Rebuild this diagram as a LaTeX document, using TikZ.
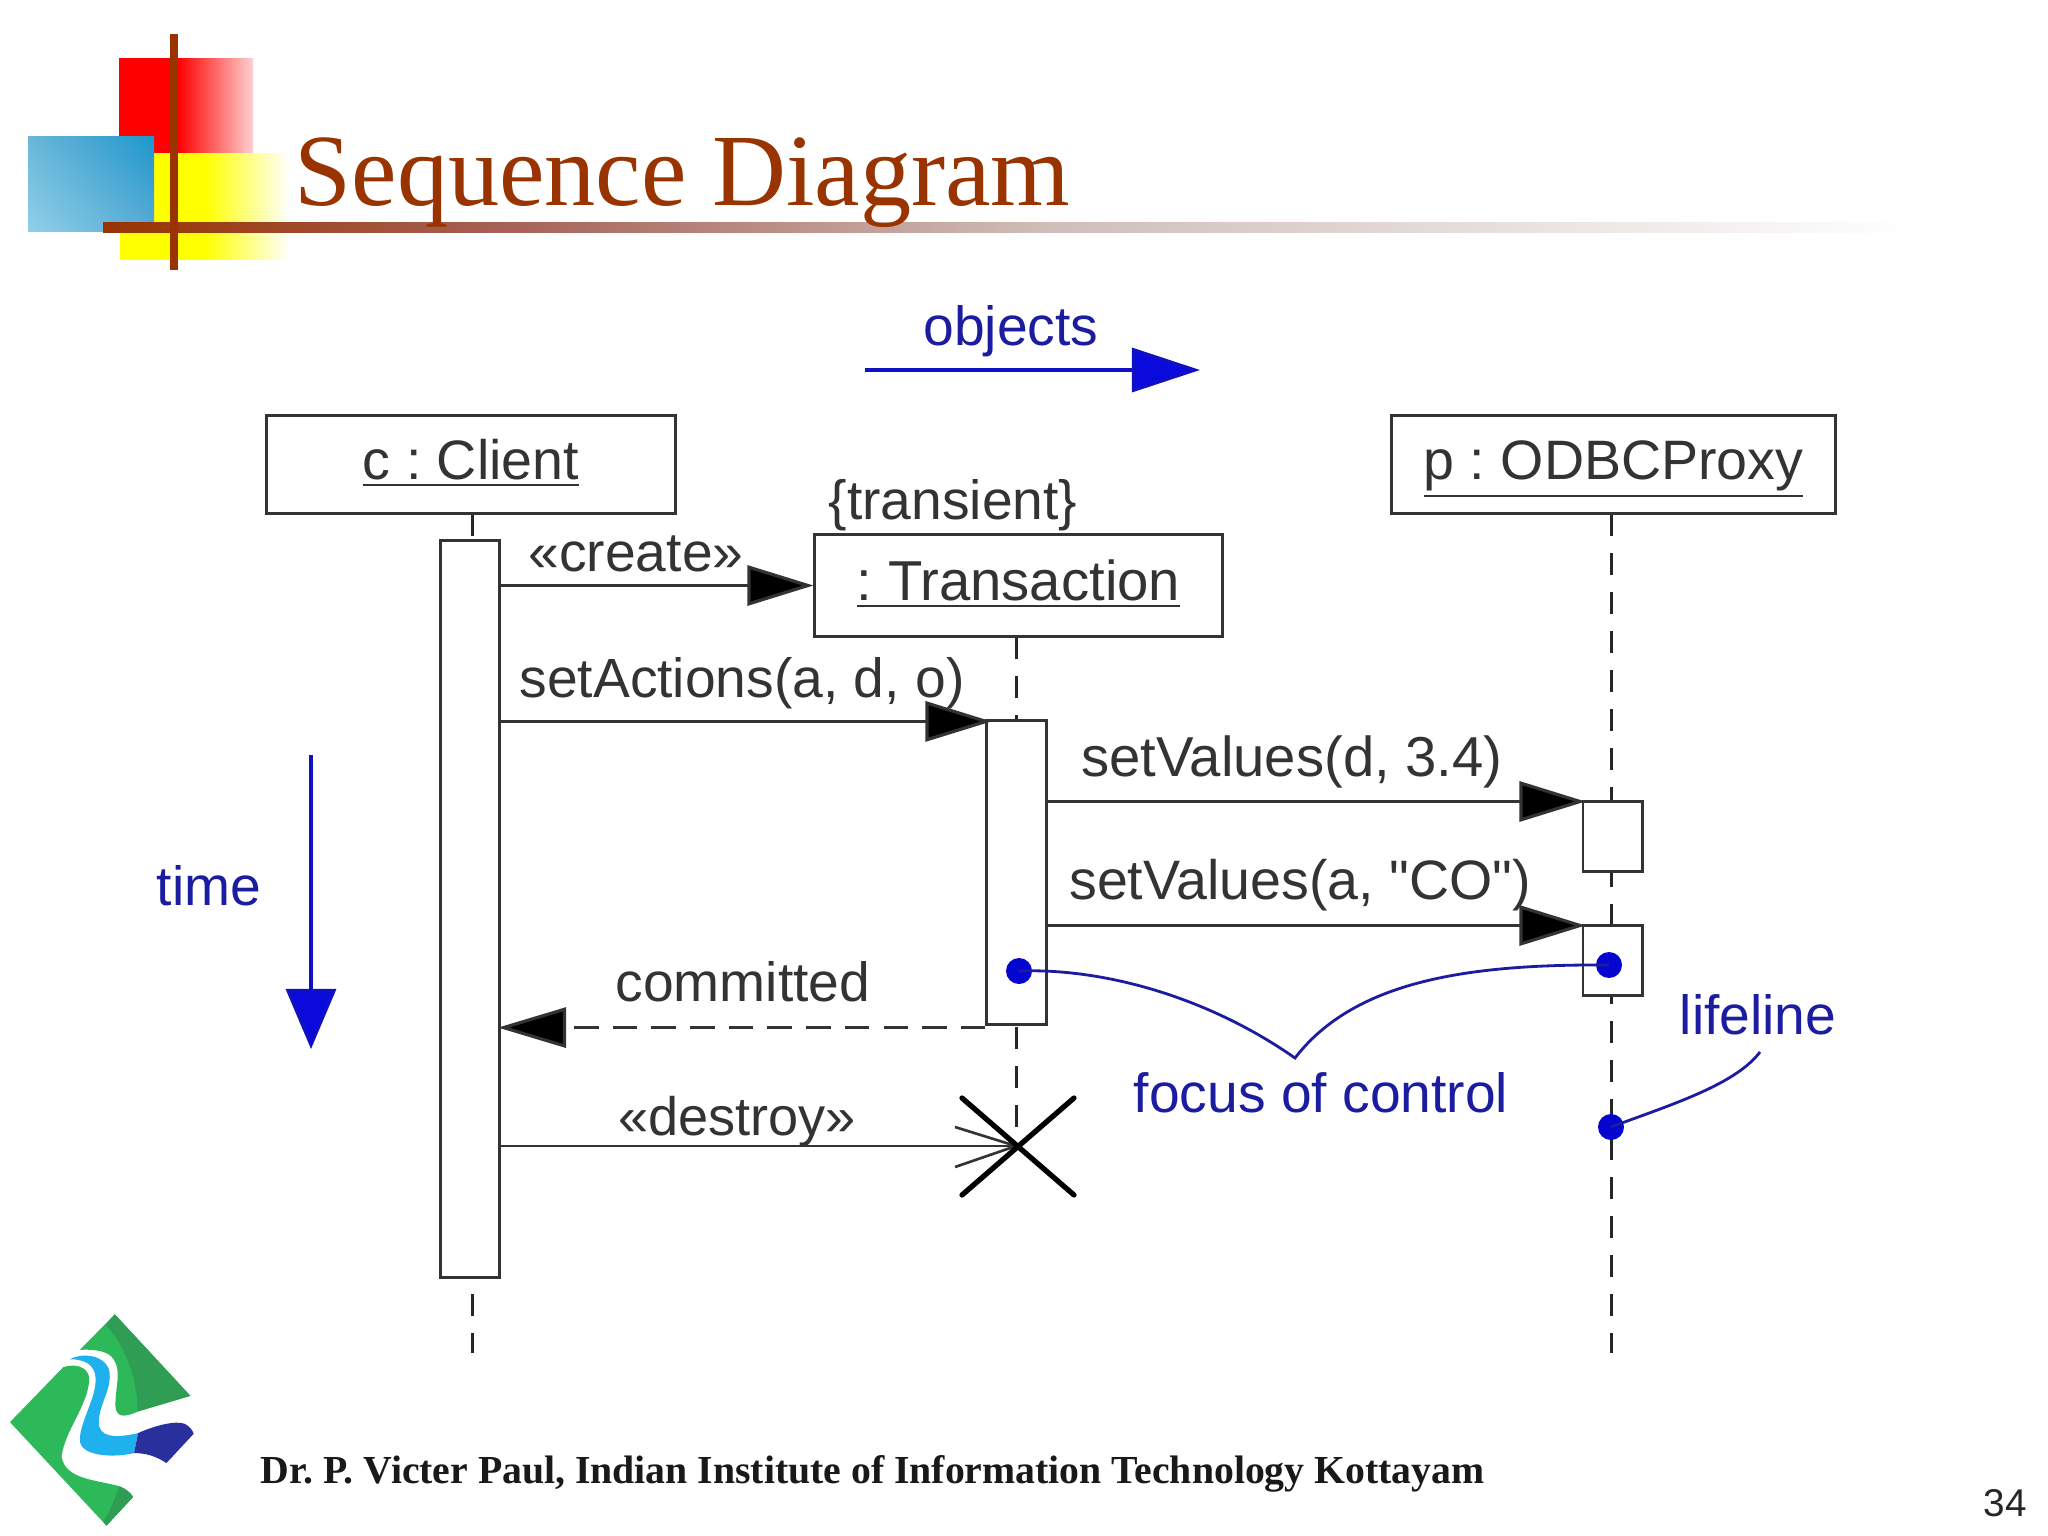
\documentclass[tikz,border=0pt]{standalone}
\usepackage{fontspec}
\setmainfont{Liberation Serif}
\setsansfont{Liberation Sans}
\newfontfamily\plainsans{Liberation Sans}
\usetikzlibrary{arrows.meta,calc,shadings}
\definecolor{tbrown}{HTML}{993300}
\definecolor{lbl}{HTML}{333333}
\definecolor{navy}{HTML}{1C1CA0}
\definecolor{dotblue}{HTML}{0505D0}
\definecolor{arrblue}{HTML}{0A0ADC}
\definecolor{lgreen}{HTML}{2DB85A}
\definecolor{dgreen}{HTML}{2F9E54}
\definecolor{lcyan}{HTML}{1FB0EE}
\definecolor{lnavy}{HTML}{2A2F9E}
\definecolor{skyA}{HTML}{8FD0E8}
\definecolor{skyB}{HTML}{1E96CC}
\definecolor{skyC}{HTML}{6AB6D8}
\definecolor{skyD}{HTML}{58AAD4}
\definecolor{lineA}{HTML}{A66055}
\definecolor{lineB}{HTML}{CFBDB8}
\definecolor{pinkend}{HTML}{FFD0D0}
\pgfdeclarehorizontalshading{redfade}{100bp}{color(0bp)=(red); color(47bp)=(red); color(75bp)=(pinkend); color(100bp)=(pinkend)}
\pgfdeclarehorizontalshading{yellowfade}{100bp}{color(0bp)=(yellow); color(50bp)=(yellow); color(75bp)=(white); color(100bp)=(white)}
\pgfdeclarehorizontalshading{rulefade}{100bp}{color(0bp)=(tbrown); color(25bp)=(tbrown); color(36bp)=(lineA); color(51bp)=(lineB); color(75bp)=(white); color(100bp)=(white)}
\tikzset{
  txt/.style={font=\sffamily\fontsize{15.7}{18}\selectfont\frenchspacing,text=lbl,inner sep=0pt},
  bluetxt/.style={font=\sffamily\fontsize{15.7}{18}\selectfont\frenchspacing,text=navy,inner sep=0pt},
  umlbox/.style={draw=lbl,line width=0.85pt,fill=white,inner sep=0pt,font=\sffamily\fontsize{15.8}{18}\selectfont\frenchspacing,text=lbl,text height=0.5cm,text depth=0.2cm},
  actbox/.style={draw=lbl,line width=0.85pt,fill=white,inner sep=0pt,minimum width=0.59cm},
  life/.style={draw=black!85,line width=0.85pt,dash pattern=on 6.2pt off 4.88pt},
  msg/.style={draw=lbl,line width=0.9pt,-{Triangle[length=0.66cm,width=0.40cm,fill=black]}},
  ret/.style={draw=lbl,line width=0.9pt,dash pattern=on 7pt off 4pt,-{Triangle[length=0.68cm,width=0.40cm,fill=black]}},
  dotmark/.style={circle,fill=dotblue,inner sep=0pt,minimum size=0.26cm},
  note/.style={draw=navy,line width=0.8pt}
}
\begin{document}
\begin{tikzpicture}[x=0.01cm,y=-0.01cm]
\useasboundingbox (0,0) rectangle (2048,1536);
\fill[white] (0,0) rectangle (2048,1536);
% header decoration
\shade[shading=redfade] (119,58) rectangle (253,153);
\shade[shading=yellowfade] (120,153) rectangle (290,259);
\shade[lower left=skyA,upper right=skyB,upper left=skyC,lower right=skyD] (28,136) rectangle (154,231);
\shade[shading=rulefade] (103,222) rectangle (1910,232);
\fill[tbrown] (170,34) rectangle (178,270);
\node[anchor=base west,inner sep=0pt,text=tbrown,font=\fontsize{29.1}{34}\selectfont] (title) at (294,205) {Sequence Diagram};
% lifelines
\node[umlbox,minimum width=4.08cm,minimum height=0.97cm] (client) at (471,464.5) {\underline{c : Client}};
\node[umlbox,minimum width=4.43cm,minimum height=0.97cm] (proxy) at (1613.5,464.5) {\underline{p : ODBCProxy}};
\node[umlbox,minimum width=4.07cm,minimum height=1.01cm,font=\sffamily\fontsize{16}{18}\selectfont\frenchspacing] (trans) at (1018.5,585.5) {\underline{: Transaction}};
\coordinate (clientend) at (472,1353);
\coordinate (proxyend) at (1611,1353);
\coordinate (destroyed) at (1016,1146);
\draw[life] (client.south -| clientend) -- (clientend);
\draw[life] (proxy.south -| proxyend) -- (proxyend);
\draw[life] (trans.south -| destroyed) -- (destroyed);
% activations
\node[actbox,minimum height=7.36cm] (cact) at (470,909) {};
\node[actbox,minimum height=3.03cm] (tact) at (1016.5,872.5) {};
\node[actbox,minimum height=0.69cm] (pa1) at (1612.5,836.5) {};
\node[actbox,minimum height=0.69cm] (pa2) at (1612.5,960.5) {};
% messages
\coordinate (m1) at (cact.east |- trans.west);
\draw[msg] (m1) -- (trans.west);
\coordinate (m2) at (cact.east |- tact.north);
\draw[msg] ($(m2)+(0,2)$) -- ($(tact.north west)+(6,2)$);
\coordinate (m3) at (tact.east |- pa1.north);
\draw[msg] ($(m3)+(0,1)$) -- ($(pa1.north west)+(4,1)$);
\coordinate (m4) at (tact.east |- pa2.north);
\draw[msg] ($(m4)+(0,1)$) -- ($(pa2.north west)+(4,1)$);
\coordinate (m5) at (cact.east |- tact.south);
\draw[ret] ($(tact.south west)+(0,2)$) -- ($(m5)+(-3,2)$);
\coordinate (m6) at (cact.east |- destroyed);
\draw[draw=lbl,line width=0.75pt] (m6) -- (destroyed);
\coordinate (barbA) at (955,1127);
\coordinate (barbB) at (955,1167);
\draw[draw=lbl,line width=0.75pt] (barbA) -- (destroyed) -- (barbB);
% destruction X
\coordinate (xa) at (962,1098);
\coordinate (xb) at (1074,1195);
\coordinate (xc) at (1074,1098);
\coordinate (xd) at (962,1195);
\draw[black,line width=1.5pt,line cap=round] (xa) -- (xb) (xc) -- (xd);
% labels
\node[txt] (l1) at (636,554) {«create»};
\node[txt] (l2) at (953,505) {\{transient\}};
\node[txt] (l3) at (742,683) {setActions(a, d, o)};
\node[txt,font=\sffamily\fontsize{16}{18}\selectfont\frenchspacing] (l4) at (1292,762) {setValues(d, 3.4)};
\node[txt,font=\sffamily\fontsize{15.8}{18}\selectfont\frenchspacing] (l5) at (1300,885) {\plainsans setValues(a, "CO")};
\node[txt] (l6) at (743,982) {committed};
\node[txt,font=\sffamily\fontsize{15.4}{18}\selectfont] (l7) at (737,1121) {«destroy»};
% blue annotations
\node[bluetxt] (objects) at (1011,331) {objects};
\coordinate (oa) at (865,370);
\coordinate (ob) at (1200,370);
\draw[draw=navy!40!arrblue,line width=0.95pt,-{Triangle[length=0.68cm,width=0.44cm,fill=arrblue]}] (oa) -- (ob);
\node[bluetxt] (time) at (209,886) {time};
\coordinate (ta) at (311,755);
\coordinate (tb) at (311,1049);
\draw[draw=navy!40!arrblue,line width=0.95pt,-{Triangle[length=0.60cm,width=0.50cm,fill=arrblue]}] (ta) -- (tb);
\node[dotmark] (d1) at (1019,971) {};
\node[dotmark] (d2) at (1609,965) {};
\node[dotmark] (d3) at (1611,1127) {};
\coordinate (apex) at (1295,1058);
\draw[note] (d1.center) .. controls (1100,968) and (1205,995) .. (apex) .. controls (1355,980) and (1470,964) .. (d2.center);
\node[bluetxt] (focus) at (1321,1093) {focus of control};
\node[bluetxt] (lifeline) at (1758,1015) {lifeline};
\coordinate (lifeend) at (1760,1052);
\draw[note] (d3.center) .. controls (1670,1105) and (1735,1085) .. (lifeend);
% logo
\begin{scope}[shift={(0,1290)},x=0.003333cm,y=-0.003333cm]
\fill[lgreen] (30,397) -- (190,232) .. controls (225,220) and (262,230) .. (268,262) .. controls (270,340) and (195,420) .. (185,500) .. controls (195,570) and (290,570) .. (360,590) -- (400,622) -- (320,708) -- cycle;
\fill[dgreen] (360,590) .. controls (375,595) and (395,610) .. (400,622) -- (320,708) -- (310,695) .. controls (335,660) and (345,620) .. (360,590) -- cycle;
\fill[lgreen] (345,73) -- (572,318) -- (415,365) .. controls (385,378) and (350,390) .. (347,350) .. controls (345,290) and (370,240) .. (335,200) .. controls (315,180) and (270,178) .. (240,180) -- cycle;
\fill[dgreen] (345,73) -- (572,318) -- (413,365) .. controls (415,280) and (380,170) .. (318,105) -- cycle;
\fill[lcyan] (210,208) .. controls (240,190) and (310,190) .. (328,240) .. controls (340,300) and (290,350) .. (298,410) .. controls (310,450) and (370,440) .. (415,430) -- (403,490) .. controls (340,505) and (240,500) .. (240,450) .. controls (240,390) and (300,310) .. (285,250) .. controls (275,215) and (240,208) .. (210,208) -- cycle;
\fill[lnavy] (415,430) .. controls (470,405) and (530,392) .. (555,402) .. controls (570,410) and (578,420) .. (582,432) -- (500,520) .. controls (470,500) and (440,490) .. (403,490) -- cycle;
\end{scope}
% footer
\node[anchor=base west,inner sep=0pt,font=\bfseries\fontsize{11.3}{13}\selectfont\frenchspacing,text=black!90] (footer) at (260,1483) {Dr. P. Victer Paul, Indian Institute of Information Technology Kottayam};
\node[anchor=center,inner sep=0pt,font=\sffamily\fontsize{11}{13}\selectfont,text=black!85] (page) at (2005,1503) {34};
\end{tikzpicture}
\end{document}
